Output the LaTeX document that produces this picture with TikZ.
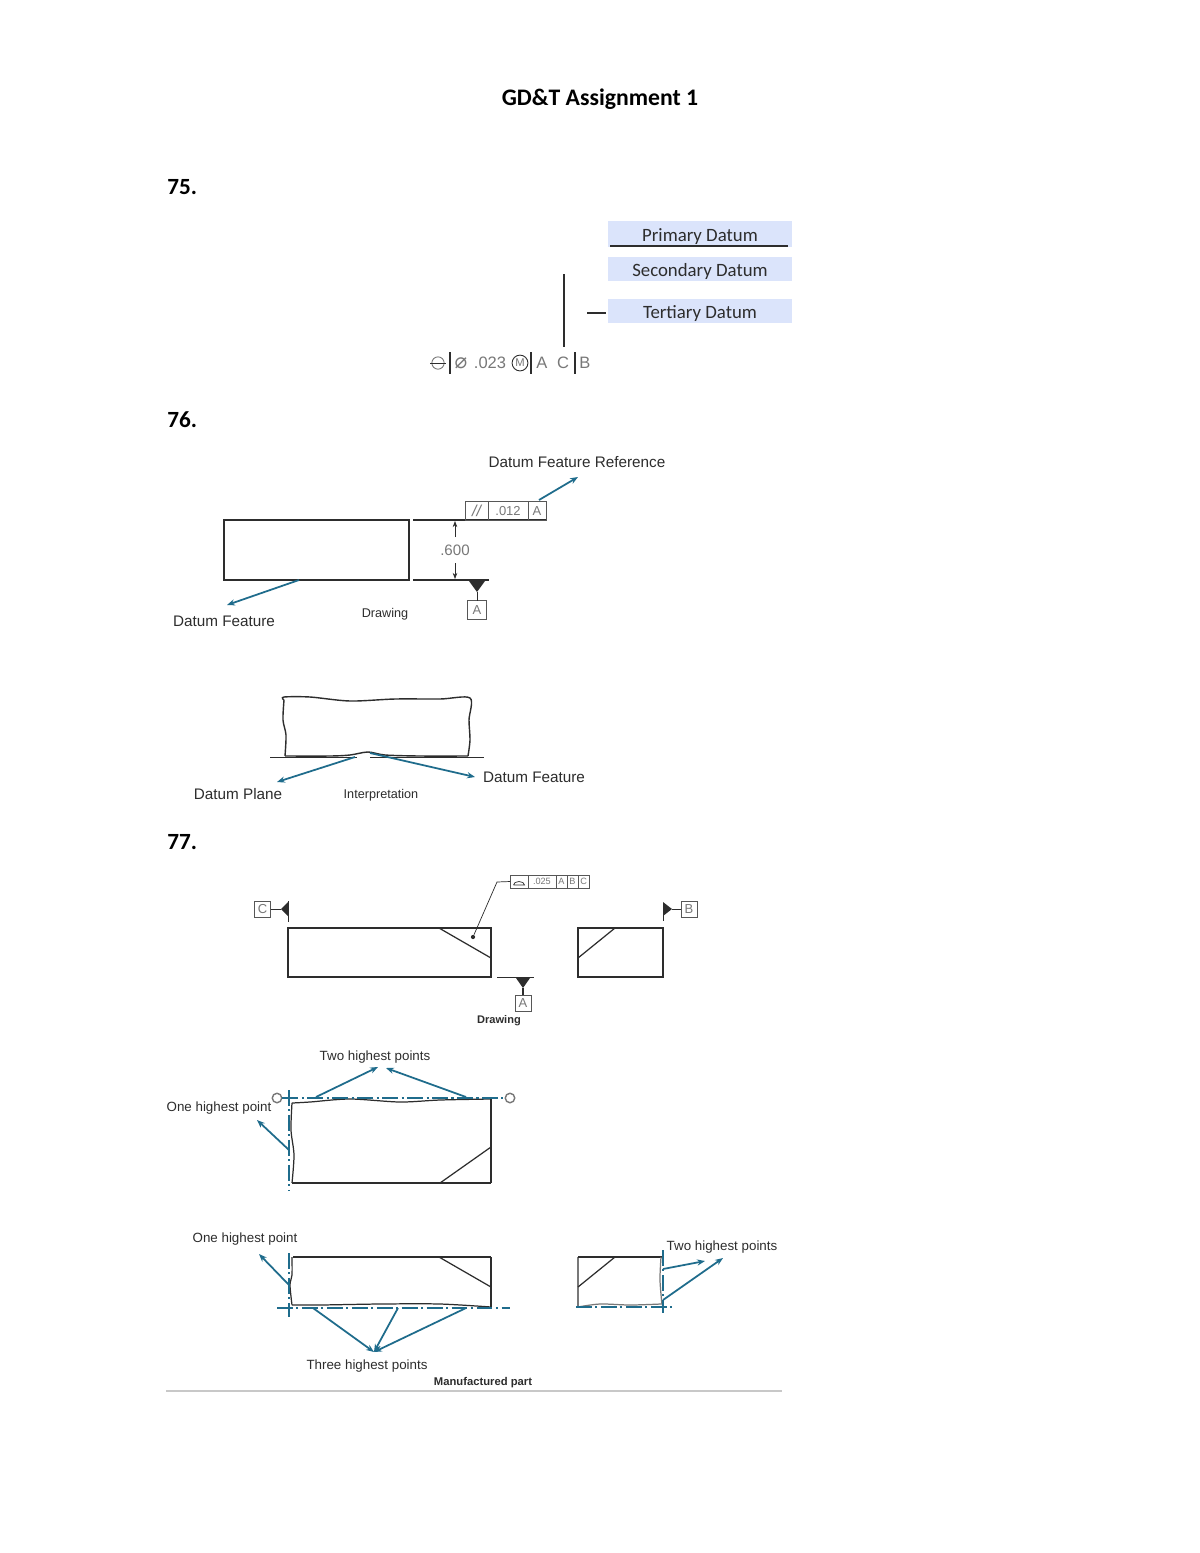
\documentclass[tikz,border=0pt]{standalone}
\usepackage{fontspec}
\setmainfont{Carlito}
\setsansfont{Liberation Sans}
\newfontfamily\symfont{DejaVu Sans}
\usepackage{xcolor}
\usetikzlibrary{arrows.meta, positioning, calc}
\definecolor{datumfill}{RGB}{219, 228, 251}
\definecolor{calloutblue}{RGB}{31, 108, 140}
\definecolor{inkdark}{RGB}{45, 45, 45}
\definecolor{inkgray}{RGB}{120, 120, 120}
\definecolor{rulegray}{RGB}{200, 200, 200}
\tikzset{
  sectionlabel/.style={anchor=west, inner sep=0pt, font=\fontsize{13.2}{15}\selectfont\bfseries, text=black},
  datumbox/.style={fill=datumfill, minimum width=104.6pt, inner sep=0pt, text height=9.1pt, text depth=0.9pt, font=\fontsize{10.7}{12}\selectfont, text=inkdark},
  partlabel/.style={inner sep=0pt, font=\sffamily\fontsize{8.7}{10}\selectfont, text=inkdark},
  highlabel/.style={partlabel, font=\sffamily\fontsize{7.6}{9}\selectfont},
  smalllabel/.style={inner sep=0pt, font=\sffamily\fontsize{7.2}{9}\selectfont, text=inkdark},
  framecell/.style={draw=inkdark!80, line width=0.4pt, inner sep=0pt, outer sep=0pt, font=\sffamily\fontsize{7.4}{9}\selectfont, text=inkgray},
  framefig/.style={inner sep=0pt, font=\sffamily\fontsize{9.4}{11}\selectfont, text=inkgray},
  tinycell/.style={framecell, font=\sffamily\fontsize{5.2}{6}\selectfont},
  partline/.style={line width=0.7pt, draw=inkdark},
  heavyline/.style={line width=1.4pt, draw=inkdark},
  thinline/.style={line width=0.5pt, draw=inkdark},
  callout/.style={line width=1pt, draw=calloutblue, -{Stealth[length=4.5pt,width=3.5pt]}},
  datumline/.style={line width=0.8pt, draw=calloutblue, dash pattern=on 9pt off 2pt on 1.2pt off 2pt},
  pivot/.style={circle, draw=inkgray, line width=0.8pt, minimum size=5.4pt, inner sep=0pt},
}
\begin{document}
\begin{tikzpicture}[x=0.02cm, y=-0.02cm]
  \useasboundingbox (0,0) rectangle (1200,1553);
  \fill[white] (0,0) rectangle (1200,1553);

  % Title and question numbers
  \node[inner sep=0pt, font=\fontsize{13.5}{15}\selectfont\bfseries] (title) at (600,99) {GD\&T Assignment 1};
  \node[sectionlabel] (q75) at (167,187) {75.};
  \node[sectionlabel] (q76) at (167,420) {76.};
  \node[sectionlabel] (q77) at (167,842) {77.};

  % Question 75
  \node[datumbox, minimum height=14.8pt] (primary) at (700,234) {Primary Datum};
  \node[datumbox, minimum height=13.7pt] (secondary) at (700,269) {Secondary Datum};
  \node[datumbox, minimum height=14.2pt] (tertiary) at (700,311) {Tertiary Datum};
  \draw[thinline, line width=0.7pt] (610,246) -- (788,246);
  \coordinate (stemtop) at (564,274);
  \coordinate (stembottom) at (564,347);
  \draw[thinline, line width=0.7pt] (stemtop) -- (stembottom);
  \coordinate (dashleft) at (587,313);
  \coordinate (dashright) at (606,313);
  \draw[thinline, line width=0.6pt] (dashleft) -- (dashright);
  % position frame
  \node[circle, draw=inkgray, line width=0.5pt, minimum size=7pt, inner sep=0pt] (possym) at (438,363) {};
  \draw[inkdark, line width=0.5pt] (430,363) -- (446,363);
  \node[framefig, font=\symfont\fontsize{12}{13}\selectfont] (diasym) at (461,363) {⌀};
  \node[framefig] (tolval) at (490,363) {.023};
  \node[circle, draw=inkdark, line width=0.5pt, minimum size=9pt, inner sep=0pt, font=\sffamily\fontsize{6.4}{7}\selectfont, text=inkgray] (mmc) at (520,363) {M};
  \node[framefig] (refa) at (542,363) {A};
  \node[framefig] (refc) at (563,363) {C};
  \node[framefig] (refb) at (585,363) {B};
  \foreach \xbar in {450,531,575}
    \draw[thinline, line width=0.7pt] (\xbar,352) -- (\xbar,374);

  % Question 76, drawing
  \node[draw=inkdark, line width=1pt, outer sep=0pt, minimum width=105.3pt, minimum height=34.1pt, inner sep=0pt] (block) at (316.5,550) {};
  \coordinate (topleft) at (413,520);
  \coordinate (topright) at (546,520);
  \coordinate (botleft) at (413,580);
  \coordinate (botright) at (489,580);
  \draw[thinline, line width=0.6pt] (topleft) -- (topright);
  \draw[partline, line width=0.9pt] (botleft) -- (botright);
  \node[framecell, minimum width=13.1pt, minimum height=10.5pt, font=\sffamily\itshape\fontsize{9}{10}\selectfont] (parcell) at (476.5,511) {//};
  \node[framecell, minimum width=22.8pt, minimum height=10.5pt, right=0pt of parcell] (tolcell) {.012};
  \node[framecell, minimum width=10.2pt, minimum height=10.5pt, right=0pt of tolcell] (refcell) {A};
  \node[framefig, font=\sffamily\fontsize{8.6}{10}\selectfont] (dimval) at (455,550) {.600};
  \coordinate (dimtop) at (455,521);
  \coordinate (dimbot) at (455,579);
  \draw[inkdark, line width=0.4pt, -{Stealth[length=3.5pt,width=2.6pt]}] (455,537) -- (dimtop);
  \draw[inkdark, line width=0.4pt, -{Stealth[length=3.5pt,width=2.6pt]}] (455,563) -- (dimbot);
  \node[framecell, minimum width=11pt, minimum height=10.5pt] (tagA) at (477,610) {A};
  \coordinate (triA) at (477,592);
  \fill[inkdark] (469,581) -- (485,581) -- (triA) -- cycle;
  \draw[thinline] (triA) -- (tagA);
  \node[partlabel] (dfref) at (577,462) {Datum Feature Reference};
  \coordinate (dfreftail) at (539,500);
  \coordinate (dfrefhead) at (578,477);
  \draw[callout] (dfreftail) -- (dfrefhead);
  \node[partlabel] (dfeat) at (224,621) {Datum Feature};
  \coordinate (dfeattail) at (299,580);
  \coordinate (dfeathead) at (227,605);
  \draw[callout] (dfeattail) -- (dfeathead);
  \node[smalllabel] (draw76) at (385,614) {Drawing};

  % Question 76, interpretation
  \draw[partline, line width=0.8pt] plot[smooth] coordinates {(284,700) (284,697) (310,697) (350,701) (395,699) (440,699) (470,698) (469,720) (470,740) (468,756)};
  \draw[partline, line width=0.8pt] plot[smooth] coordinates {(285,756) (286,735) (283,720) (284,700)};
  \draw[partline, line width=0.8pt] plot[smooth] coordinates {(285,756) (330,756) (350,755) (368,752) (385,755) (420,756) (468,756)};
  \draw[thinline] (270,757) -- (357,757);
  \draw[thinline] (370,757) -- (484,757);
  \node[partlabel] (dplane) at (238,794) {Datum Plane};
  \node[partlabel] (dfeat2) at (534,777) {Datum Feature};
  \coordinate (dplanetail) at (355,757);
  \coordinate (dplanehead) at (277,782);
  \coordinate (dfeat2tail) at (370,753);
  \coordinate (dfeat2head) at (475,777);
  \draw[callout] (dplanetail) -- (dplanehead);
  \draw[callout] (dfeat2tail) -- (dfeat2head);
  \node[smalllabel] (interp) at (381,795) {Interpretation};

  % Question 77, drawing
  \node[draw=inkdark, line width=0.8pt, outer sep=0pt, minimum width=115.5pt, minimum height=27.9pt, inner sep=0pt] (front) at (389.5,952.5) {};
  \node[draw=inkdark, line width=0.8pt, outer sep=0pt, minimum width=48.4pt, minimum height=27.9pt, inner sep=0pt] (side) at (620.5,952.5) {};
  \draw[partline] (439,928) -- (491,958);
  \draw[partline] (615,928) -- (578,958);
  \node[tinycell, minimum width=10.2pt, minimum height=7.4pt] (profcell) at (519,881.5) {};
  \draw[inkdark, line width=0.4pt] (513.5,885) -- (524.5,885) arc (0:180:5.5*0.569pt and 3.5*0.569pt);
  \node[tinycell, minimum width=15.9pt, minimum height=7.4pt, right=0pt of profcell] (tolfive) {.025};
  \node[tinycell, minimum width=6.3pt, minimum height=7.4pt, right=0pt of tolfive] (pa) {A};
  \node[tinycell, minimum width=6.3pt, minimum height=7.4pt, right=0pt of pa] (pb) {B};
  \node[tinycell, minimum width=6.3pt, minimum height=7.4pt, right=0pt of pb] (pc) {C};
  \node[circle, fill=inkdark, minimum size=2.4pt, inner sep=0pt] (leaderdot) at (473,937) {};
  \draw[inkdark, line width=0.4pt] (profcell.west) -- (497,882) -- (leaderdot);
  % datum flags
  \node[framecell, minimum width=9.5pt, minimum height=9pt] (tagC) at (262.5,909) {C};
  \coordinate (triC) at (281,909);
  \fill[inkdark] (288,902) -- (288,916) -- (triC) -- cycle;
  \draw[thinline] (tagC) -- (triC);
  \draw[thinline] (288,901) -- (288,922);
  \node[framecell, minimum width=9pt, minimum height=9pt] (tagB) at (689,909) {B};
  \coordinate (triB) at (672,909);
  \fill[inkdark] (663,902) -- (663,916) -- (triB) -- cycle;
  \draw[thinline] (triB) -- (tagB);
  \draw[thinline] (663,903) -- (663,921);
  \draw[thinline, line width=0.7pt] (497,977.5) -- (534,977.5);
  \coordinate (triD) at (523,988);
  \fill[inkdark] (516,978) -- (530,978) -- (triD) -- cycle;
  \node[framecell, minimum width=9pt, minimum height=9pt] (tagD) at (523,1003) {A};
  \draw[thinline, line width=0.7pt] (triD) -- (tagD);
  \node[smalllabel, font=\sffamily\bfseries\fontsize{6.3}{8}\selectfont] (draw77) at (499,1021) {Drawing};

  % Question 77, part on datum A and C
  \draw[partline] plot[smooth] coordinates {(292,1103) (310,1102) (350,1099) (400,1102) (440,1100) (491,1099)};
  \draw[partline] plot[smooth] coordinates {(292,1103) (291,1130) (294,1155) (292,1183)};
  \draw[partline] (491,1099) -- (491,1183);
  \draw[heavyline] (292,1183) -- (491,1183);
  \draw[partline] (440,1183) -- (491,1147);
  \node[pivot] (pivleft) at (277,1098) {};
  \node[pivot] (pivright) at (510,1098) {};
  \draw[datumline] (pivleft) -- (pivright);
  \coordinate (vtop) at (289,1090);
  \coordinate (vbot) at (289,1191);
  \draw[datumline, line width=1pt] (vtop) -- (vbot);
  \node[highlabel] (twohigh) at (375,1057) {Two highest points};
  \node[highlabel] (onehigh) at (219,1108) {One highest point};
  \coordinate (thleft) at (316,1097);
  \coordinate (thlefthead) at (378,1067);
  \coordinate (thright) at (466,1097);
  \coordinate (thrighthead) at (386,1068);
  \coordinate (ohtail) at (289,1150);
  \coordinate (ohhead) at (257,1120);
  \draw[callout] (thleft) -- (thlefthead);
  \draw[callout] (thright) -- (thrighthead);
  \draw[callout] (ohtail) -- (ohhead);

  % Question 77, part on datum A and B
  \draw[partline] plot[smooth] coordinates {(292,1257) (292,1275) (290,1285) (292,1305)};
  \draw[partline] plot[smooth] coordinates {(292,1305) (320,1305) (380,1304) (440,1304) (491,1307)};
  \draw[partline] (491,1257) -- (491,1307);
  \draw[heavyline] (293,1257) -- (491,1257);
  \draw[partline] (439,1257) -- (491,1287);
  \coordinate (lineleft) at (277,1308);
  \coordinate (lineright) at (510,1308);
  \draw[datumline] (lineleft) -- (lineright);
  \coordinate (v2top) at (289,1253);
  \coordinate (v2bot) at (289,1317);
  \draw[datumline, line width=1pt] (v2top) -- (v2bot);
  \node[highlabel] (onehigh2) at (245,1239) {One highest point};
  \node[highlabel] (threehigh) at (367,1366) {Three highest points};
  \node[smalllabel, font=\sffamily\bfseries\fontsize{6.4}{8}\selectfont] (manuf) at (483,1383) {Manufactured part};
  \coordinate (tha) at (313,1308);
  \coordinate (thb) at (398,1308);
  \coordinate (thc) at (466,1308);
  \coordinate (thhead) at (374,1352);
  \draw[callout] (tha) -- (thhead);
  \draw[callout] (thb) -- (thhead);
  \draw[callout] (thc) -- (thhead);
  \coordinate (oh2tail) at (289,1285);
  \coordinate (oh2head) at (259,1254);
  \draw[callout] (oh2tail) -- (oh2head);
  % side view
  \draw[partline, draw=inkgray] (578,1257) -- (578,1307);
  \draw[heavyline] (578,1257) -- (662,1257);
  \draw[partline] (615,1257) -- (578,1287);
  \draw[partline, draw=inkgray] plot[smooth] coordinates {(661,1257) (660,1280) (662,1305)};
  \draw[partline, draw=inkgray] plot[smooth] coordinates {(578,1307) (600,1304) (630,1305) (661,1304)};
  \coordinate (sideleft) at (576,1307);
  \coordinate (sideright) at (672,1307);
  \draw[datumline] (sideleft) -- (sideright);
  \coordinate (v3top) at (663,1250);
  \coordinate (v3bot) at (663,1313);
  \draw[datumline] (v3top) -- (v3bot);
  \node[highlabel] (twohigh2) at (722,1247) {Two highest points};
  \coordinate (sidetail) at (663,1269);
  \coordinate (sidehead) at (705,1261);
  \coordinate (side2tail) at (663,1300);
  \coordinate (side2head) at (723,1258);
  \draw[callout] (sidetail) -- (sidehead);
  \draw[callout] (side2tail) -- (side2head);

  % Rule under the figure
  \draw[rulegray, line width=0.8pt] (166,1391) -- (782,1391);
\end{tikzpicture}
\end{document}
